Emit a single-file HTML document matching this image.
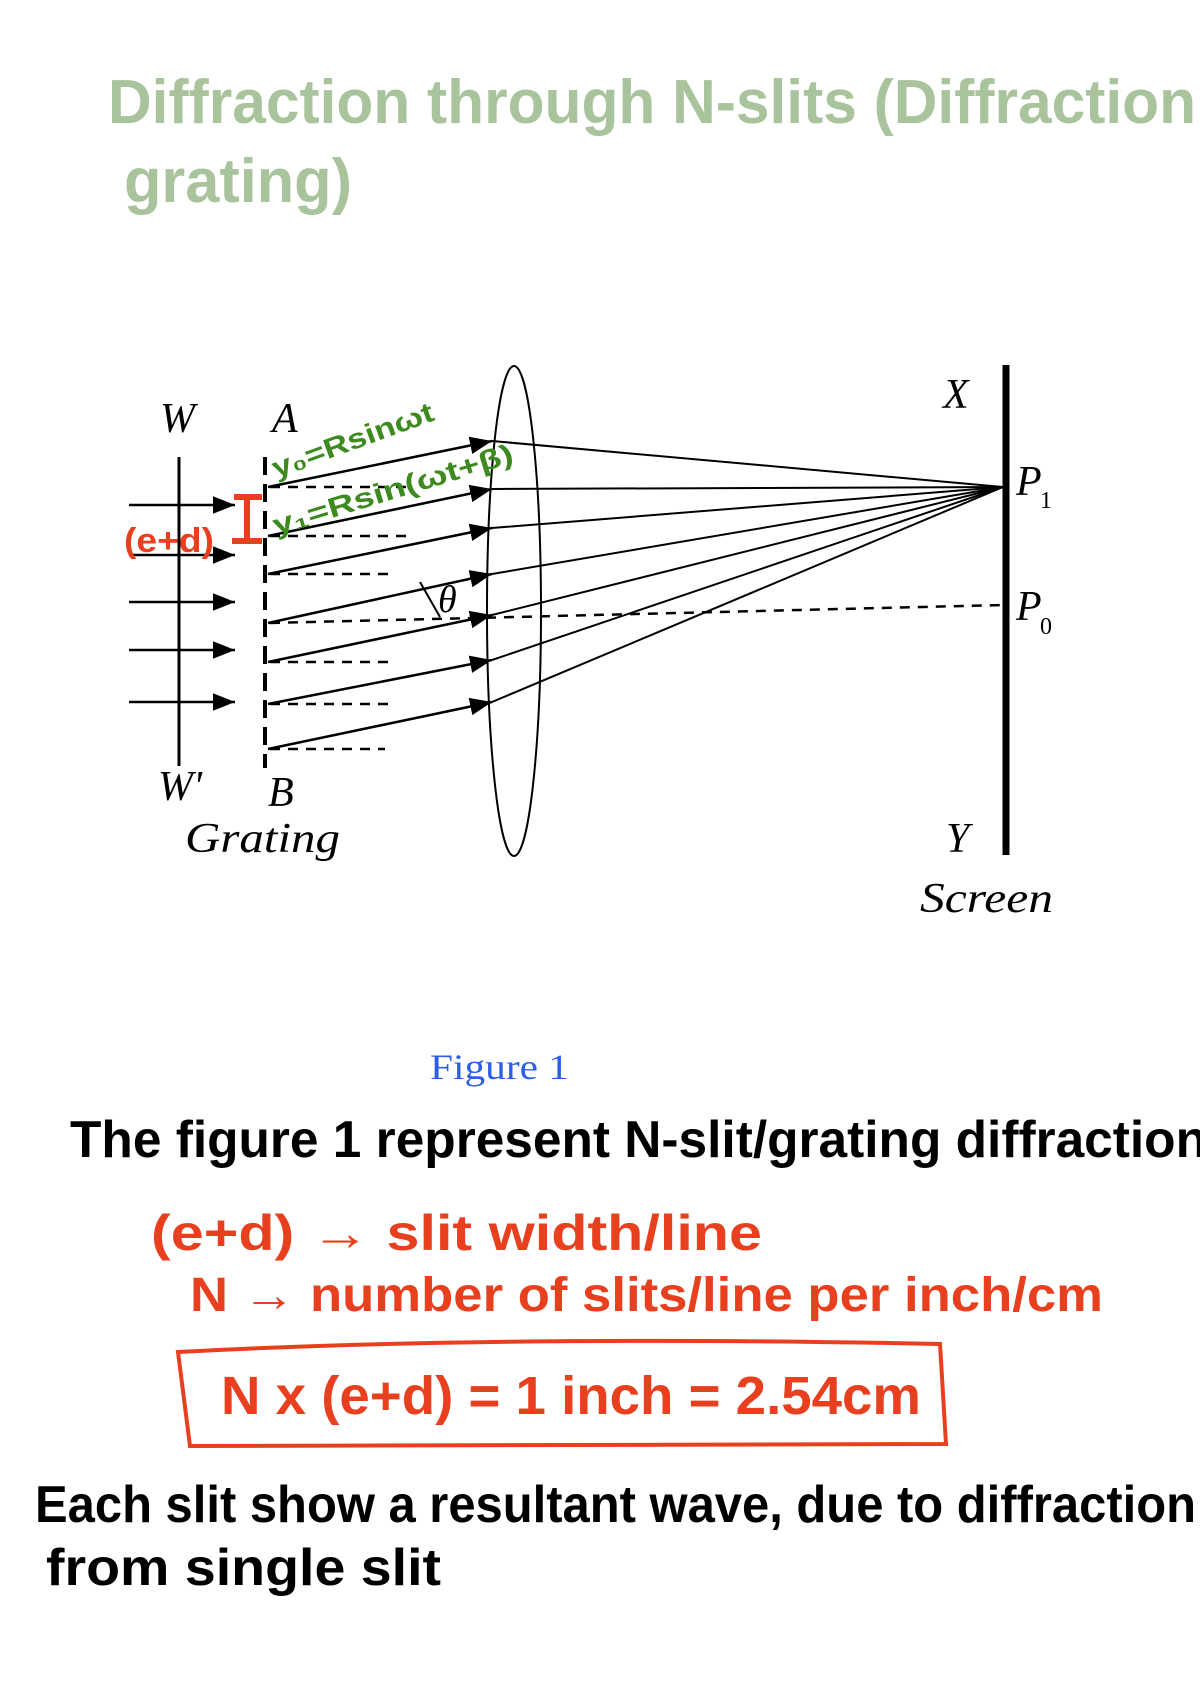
<!DOCTYPE html>
<html><head><meta charset="utf-8"><style>
html,body{margin:0;padding:0;background:#fff}
svg{display:block}
.h{font-family:"Liberation Sans",sans-serif;font-weight:bold}
.s{font-family:"Liberation Serif",serif;font-style:italic}
</style></head><body>
<svg width="1200" height="1697" viewBox="0 0 1200 1697" xmlns="http://www.w3.org/2000/svg">
<defs>
<marker id="a2" viewBox="0 0 10 10" refX="10" refY="5" markerWidth="22" markerHeight="22" orient="auto" markerUnits="userSpaceOnUse"><path d="M0,1 L10,5 L0,9z"/></marker></defs>
<text class="h" x="108" y="123" font-size="62" fill="#a9c49c" textLength="1088" lengthAdjust="spacingAndGlyphs">Diffraction through N-slits (Diffraction</text>
<text class="h" x="124" y="202" font-size="62" fill="#a9c49c" textLength="228" lengthAdjust="spacingAndGlyphs">grating)</text>
<g stroke="#000" fill="none">
<line x1="179" y1="457" x2="179" y2="766" stroke-width="3"/>
<line x1="265" y1="457" x2="265" y2="768" stroke-width="4" stroke-dasharray="18,9"/>
<ellipse cx="514" cy="611" rx="27" ry="245" stroke-width="2"/>
<line x1="1006" y1="365" x2="1006" y2="855" stroke-width="7"/>
<g stroke-width="2.5">
<line x1="129" y1="505" x2="235" y2="505" marker-end="url(#a2)"/>
<line x1="129" y1="555" x2="235" y2="555" marker-end="url(#a2)"/>
<line x1="129" y1="602" x2="235" y2="602" marker-end="url(#a2)"/>
<line x1="129" y1="650" x2="235" y2="650" marker-end="url(#a2)"/>
<line x1="129" y1="702" x2="235" y2="702" marker-end="url(#a2)"/>
</g>
<g stroke-width="2.5">
<line x1="268" y1="487" x2="492" y2="441" marker-end="url(#a2)"/>
<line x1="268" y1="536" x2="492" y2="489" marker-end="url(#a2)"/>
<line x1="268" y1="574" x2="492" y2="528" marker-end="url(#a2)"/>
<line x1="268" y1="623" x2="492" y2="574" marker-end="url(#a2)"/>
<line x1="268" y1="662" x2="492" y2="615" marker-end="url(#a2)"/>
<line x1="268" y1="704" x2="492" y2="660" marker-end="url(#a2)"/>
<line x1="268" y1="749" x2="492" y2="702" marker-end="url(#a2)"/>
</g>
<g stroke-width="2">
<line x1="492" y1="441" x2="1003" y2="487"/>
<line x1="492" y1="489" x2="1003" y2="487"/>
<line x1="492" y1="528" x2="1003" y2="487"/>
<line x1="492" y1="574" x2="1003" y2="487"/>
<line x1="492" y1="615" x2="1003" y2="487"/>
<line x1="492" y1="660" x2="1003" y2="487"/>
<line x1="492" y1="702" x2="1003" y2="487"/>
</g>
<g stroke-width="2.5" stroke-dasharray="10,8">
<line x1="270" y1="487" x2="410" y2="487"/>
<line x1="270" y1="536" x2="410" y2="536"/>
<line x1="270" y1="574" x2="390" y2="574"/>
<line x1="270" y1="623" x2="1003" y2="605"/>
<line x1="270" y1="662" x2="395" y2="662"/>
<line x1="270" y1="704" x2="395" y2="704"/>
<line x1="270" y1="749" x2="385" y2="749"/>
</g>
<line x1="420" y1="582" x2="440" y2="617" stroke-width="2"/>
</g>
<g class="s" font-size="42" fill="#000">
<text x="160" y="432">W</text>
<text x="272" y="432">A</text>
<text x="158" y="800">W'</text>
<text x="268" y="806">B</text>
<text x="185" y="852" textLength="155" lengthAdjust="spacingAndGlyphs">Grating</text>
<text x="943" y="408">X</text>
<text x="946" y="852">Y</text>
<text x="920" y="912" textLength="133" lengthAdjust="spacingAndGlyphs">Screen</text>
<text x="1016" y="495">P</text><text x="1040" y="508" font-size="24" font-style="normal">1</text>
<text x="1016" y="620">P</text><text x="1040" y="634" font-size="24" font-style="normal">0</text>
<text x="438" y="612" font-size="38">θ</text>
</g>
<text class="h" transform="translate(276,478) rotate(-20)" font-size="28" fill="#3d8a1e" textLength="170" lengthAdjust="spacingAndGlyphs">y₀=Rsinωt</text>
<text class="h" transform="translate(276,535) rotate(-17)" font-size="28" fill="#3d8a1e" textLength="250" lengthAdjust="spacingAndGlyphs">y₁=Rsin(ωt+β)</text>
<text class="h" x="124" y="552" font-size="34" fill="#e8401e" textLength="90" lengthAdjust="spacingAndGlyphs">(e+d)</text>
<g stroke="#e8401e" stroke-width="6"><line x1="247" y1="497" x2="247" y2="541"/><line x1="234" y1="497" x2="262" y2="497"/><line x1="232" y1="541" x2="262" y2="541"/></g>
<text x="430" y="1079" font-family="Liberation Serif,serif" font-size="36" fill="#2b5fe8" textLength="139" lengthAdjust="spacingAndGlyphs">Figure 1</text>
<text class="h" x="70" y="1157" font-size="52" fill="#000" textLength="1137" lengthAdjust="spacingAndGlyphs">The figure 1 represent N-slit/grating diffraction</text>
<text class="h" x="151" y="1250" font-size="50" fill="#e8401e" textLength="611" lengthAdjust="spacingAndGlyphs">(e+d) → slit width/line</text>
<text class="h" x="190" y="1311" font-size="48" fill="#e8401e" textLength="913" lengthAdjust="spacingAndGlyphs">N → number of slits/line per inch/cm</text>
<path d="M178,1352 Q500,1335 940,1344 L946,1444 L190,1446 Z" fill="none" stroke="#e8401e" stroke-width="4"/>
<text class="h" x="221" y="1414" font-size="54" fill="#e8401e" textLength="700" lengthAdjust="spacingAndGlyphs">N x (e+d) =  1 inch = 2.54cm</text>
<text class="h" x="35" y="1522" font-size="52" fill="#000" textLength="1161" lengthAdjust="spacingAndGlyphs">Each slit show a resultant wave, due to diffraction</text>
<text class="h" x="46" y="1585" font-size="52" fill="#000" textLength="395" lengthAdjust="spacingAndGlyphs">from single slit</text>
</svg>
</body></html>
